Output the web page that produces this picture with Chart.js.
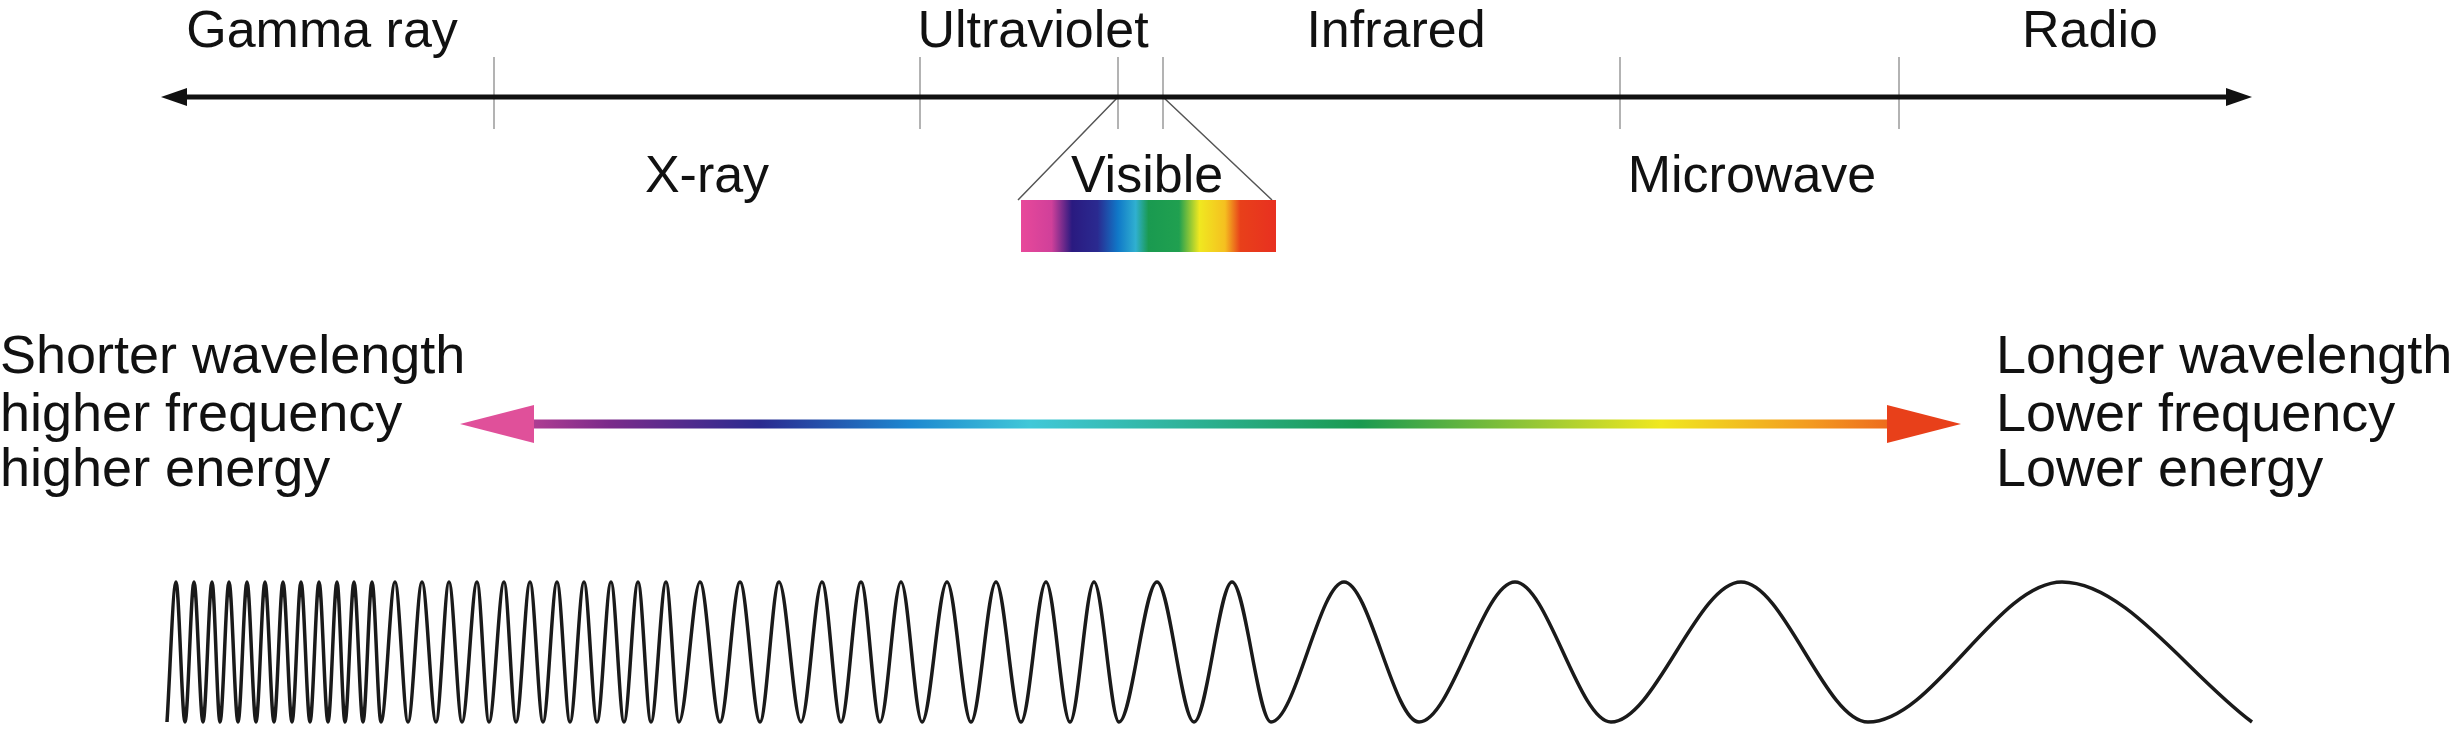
<!DOCTYPE html>
<html>
<head>
<meta charset="utf-8">
<script src="https://cdn.jsdelivr.net/npm/chart.js@4"></script>
<style>
  html, body { margin: 0; padding: 0; background: #fff; }
  #wrap { width: 2464px; height: 734px; }
</style>
</head>
<body>
<div id="wrap"><canvas id="spectrum" width="2464" height="734"></canvas></div>
<script>
// band labels of the spectrum
const topBands = ['Gamma ray', 'Ultraviolet', 'Infrared', 'Radio'];
const topBandX = [322, 1033, 1396, 2090];
const lowBands = ['X-ray', 'Visible', 'Microwave'];
const lowBandX = [707, 1147, 1752];
// band boundaries on the top axis
const bandEdges = [494, 920, 1118, 1163, 1620, 1899];
const axisStart = 173, axisEnd = 2240, axisY = 97;

const leftText = ['Shorter wavelength', 'higher frequency', 'higher energy'];
const rightText = ['Longer wavelength', 'Lower frequency', 'Lower energy'];
const textLineY = [358, 416, 471];

// crest / trough positions of the wave
const waveCrestX = [176, 194, 212, 229, 247, 265, 283, 301, 319, 337, 354, 372, 395, 422, 449, 477, 504, 530, 557, 584, 611, 638, 666, 700, 740, 779, 822, 861, 901, 947, 996, 1046, 1094, 1157, 1232, 1344, 1515, 1741, 2062];
const waveTroughX = [167, 185, 203, 220, 238, 256, 274, 292, 310, 328, 345, 363, 381, 408, 436, 462, 489, 516, 543, 570, 597, 624, 651, 679, 720, 760, 801, 841, 880, 922, 971, 1021, 1070, 1119, 1194, 1271, 1419, 1611, 1868, 2252];
const waveTopY = 582, waveBottomY = 722;

// spectrum arrow colours (left to right)
const rainbowStops = [0, 0.1, 0.2, 0.3, 0.38, 0.6, 0.8, 0.9, 1];
const rainbowColors = ['#e0509a', '#7a2a8a', '#2a2a90', '#1e88d0', '#40c8d8', '#1a9a50', '#f0e820', '#f39a20', '#e8401a'];
const boxColors = ['#e8489a', '#d0409a', '#2a1a80', '#2a2a90', '#1078c8', '#30b0d0', '#1a9a50', '#20a050', '#f0e820', '#f5c020', '#e8401a', '#e83020'];
const boxStops = [0, 0.12, 0.2, 0.3, 0.38, 0.45, 0.5, 0.62, 0.7, 0.8, 0.86, 1];

const wavePoints = waveCrestX.map(x => ({ x: x, y: waveTopY }))
  .concat(waveTroughX.map(x => ({ x: x, y: waveBottomY })))
  .sort((a, b) => a.x - b.x);

const edgePoints = [];
bandEdges.forEach(x => { edgePoints.push({ x: x, y: 57 }, { x: x, y: 129 }, { x: x, y: null }); });

const arrowFrom = 460, arrowTo = 1961, arrowY = 424;

function hGradient(chart, x0, x1, stops, colors) {
  if (!isFinite(x0) || !isFinite(x1) || x0 === x1) return colors[0];
  const g = chart.ctx.createLinearGradient(x0, 0, x1, 0);
  stops.forEach((s, i) => g.addColorStop(s, colors[i]));
  return g;
}

const extras = {
  id: 'extras',
  afterDatasetsDraw(chart) {
    const ctx = chart.ctx, sx = chart.scales.x, sy = chart.scales.y;
    const px = v => sx.getPixelForValue(v), py = v => sy.getPixelForValue(v);
    ctx.save();
    // top axis arrow heads
    ctx.fillStyle = '#111';
    ctx.beginPath();
    ctx.moveTo(px(axisStart) - 12, py(axisY)); ctx.lineTo(px(axisStart) + 14, py(axisY) - 9); ctx.lineTo(px(axisStart) + 14, py(axisY) + 9); ctx.fill();
    ctx.beginPath();
    ctx.moveTo(px(axisEnd) + 12, py(axisY)); ctx.lineTo(px(axisEnd) - 14, py(axisY) - 9); ctx.lineTo(px(axisEnd) - 14, py(axisY) + 9); ctx.fill();
    // spectrum arrow heads
    ctx.fillStyle = rainbowColors[0];
    ctx.beginPath();
    ctx.moveTo(px(arrowFrom), py(arrowY)); ctx.lineTo(px(arrowFrom) + 74, py(arrowY) - 19); ctx.lineTo(px(arrowFrom) + 74, py(arrowY) + 19); ctx.fill();
    ctx.fillStyle = rainbowColors[rainbowColors.length - 1];
    ctx.beginPath();
    ctx.moveTo(px(arrowTo), py(arrowY)); ctx.lineTo(px(arrowTo) - 74, py(arrowY) - 19); ctx.lineTo(px(arrowTo) - 74, py(arrowY) + 19); ctx.fill();
    // visible colour box
    const bx0 = px(1021), bx1 = px(1276);
    ctx.fillStyle = hGradient(chart, bx0, bx1, boxStops, boxColors);
    ctx.fillRect(bx0, py(200), bx1 - bx0, py(252) - py(200));
    // labels
    ctx.fillStyle = '#111';
    ctx.font = '52px "Liberation Sans", Arial, sans-serif';
    ctx.textAlign = 'center';
    ctx.textBaseline = 'middle';
    topBands.forEach((t, i) => ctx.fillText(t, px(topBandX[i]), py(33)));
    lowBands.forEach((t, i) => ctx.fillText(t, px(lowBandX[i]), py(178)));
    ctx.font = '54px "Liberation Sans", Arial, sans-serif';
    ctx.textAlign = 'left';
    leftText.forEach((t, i) => ctx.fillText(t, px(0), py(textLineY[i])));
    rightText.forEach((t, i) => ctx.fillText(t, px(1996), py(textLineY[i])));
    ctx.restore();
  }
};

new Chart(document.getElementById('spectrum'), {
  type: 'scatter',
  data: {
    datasets: [
      { data: wavePoints, showLine: true, borderColor: '#1a1a1a', borderWidth: 3.5, pointRadius: 0, cubicInterpolationMode: 'monotone' },
      { data: [{ x: axisStart, y: axisY }, { x: axisEnd, y: axisY }], showLine: true, borderColor: '#111', borderWidth: 5, pointRadius: 0 },
      { data: edgePoints, showLine: true, spanGaps: false, borderColor: '#9a9a9a', borderWidth: 1.5, pointRadius: 0 },
      { data: [{ x: 1018, y: 200 }, { x: 1118, y: axisY }, { x: null, y: null }, { x: 1163, y: axisY }, { x: 1272, y: 200 }], showLine: true, spanGaps: false, borderColor: '#555', borderWidth: 1.5, pointRadius: 0 },
      {
        data: [{ x: arrowFrom + 60, y: arrowY }, { x: arrowTo - 60, y: arrowY }], showLine: true, borderWidth: 9, pointRadius: 0,
        borderColor: ctx => {
          const c = ctx.chart, sx = c.scales.x;
          if (!sx) return rainbowColors[0];
          return hGradient(c, sx.getPixelForValue(arrowFrom), sx.getPixelForValue(arrowTo), rainbowStops, rainbowColors);
        }
      }
    ]
  },
  options: {
    responsive: false,
    devicePixelRatio: 1,
    animation: false,
    layout: { padding: 0 },
    plugins: { legend: { display: false }, tooltip: { enabled: false } },
    scales: {
      x: { type: 'linear', min: 0, max: 2464, display: false },
      y: { type: 'linear', min: 0, max: 734, reverse: true, display: false }
    }
  },
  plugins: [extras]
});
</script>
</body>
</html>
